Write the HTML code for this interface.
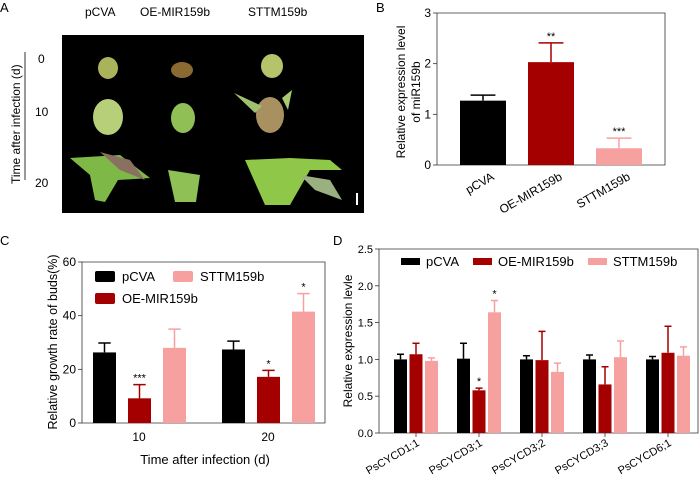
<!DOCTYPE html>
<html><head><meta charset="utf-8">
<style>
body{margin:0;background:#fff;}
svg{display:block;font-family:"Liberation Sans",Arial,sans-serif;}
</style></head>
<body>
<svg id="fig" width="700" height="486" viewBox="0 0 700 486" xmlns="http://www.w3.org/2000/svg">
<g>
<text x="0" y="12" font-size="13">A</text>
<text x="85" y="16" font-size="12">pCVA</text>
<text x="140" y="16" font-size="12">OE-MIR159b</text>
<text x="248" y="16" font-size="12">STTM159b</text>
<text transform="translate(20,184) rotate(-90)" font-size="12">Time after infection (d)</text>
<line x1="25" y1="52" x2="25" y2="180" stroke="#000" stroke-width="0.8"/>
<text x="38" y="63" font-size="12">0</text>
<text x="35" y="116" font-size="12">10</text>
<text x="35" y="187" font-size="12">20</text>
<rect x="62" y="35" width="302" height="178" fill="#000"/>
<g>
<ellipse cx="108" cy="68" rx="10" ry="11" fill="#a9b45a"/>
<ellipse cx="182" cy="70" rx="11" ry="8" fill="#8a6a30"/>
<ellipse cx="272" cy="66" rx="11" ry="12" fill="#b5c46a"/>
<ellipse cx="108" cy="117" rx="15" ry="18" fill="#b8cf7a"/>
<ellipse cx="183" cy="118" rx="12" ry="15" fill="#8fbf55"/>
<ellipse cx="270" cy="115" rx="14" ry="18" fill="#a89060"/>
<path d="M234 93 L262 106 L255 113 Z" fill="#9fc070"/>
<path d="M282 98 L292 90 L288 110 Z" fill="#a9c870"/>
<path d="M70 158 L120 155 L150 178 L118 180 L105 202 L95 200 L90 175 Z" fill="#7eb948"/>
<path d="M100 152 L130 160 L145 180 L120 170 Z" fill="#8a7060"/>
<path d="M168 170 L200 175 L196 202 L175 202 Z" fill="#8fc055"/>
<path d="M245 160 L290 158 L330 160 L342 170 L310 170 L290 205 L265 205 Z" fill="#8fc848"/>
<path d="M300 175 L330 180 L342 200 L315 190 Z" fill="#9ab080"/>
</g>
<rect x="356" y="193" width="2" height="12" fill="#fff"/>
</g>
<text x="376" y="12" font-size="13">B</text>
<text x="0" y="245" font-size="13">C</text>
<text x="333" y="245" font-size="13">D</text>
<g id="pb"></g>
<g id="pc"></g>
<g id="pd"></g>
</svg>
<script>
const NS="http://www.w3.org/2000/svg";
const colors=["#000000","#a50000","#f7a0a0"];
// Panel B data
const bCategories=["pCVA","OE-MIR159b","STTM159b"];
const bValues=[1.27,2.03,0.33];
const bErrors=[1.38,2.41,0.53];
const bStars=["","**","***"];
const bTicks=[0,1,2,3];
// Panel C data
const cGroups=["10","20"];
const cSeries=["pCVA","OE-MIR159b","STTM159b"];
const cValues=[[26.3,9.2,28],[27.4,17.2,41.5]];
const cErrors=[[29.8,14.3,35],[30.5,19.6,48.2]];
const cStars=[["","***",""],["","*","*"]];
const cTicks=[0,20,40,60];
// Panel D data
const dGenes=["PsCYCD1;1","PsCYCD3;1","PsCYCD3;2","PsCYCD3;3","PsCYCD6;1"];
const dValues=[[1.0,1.07,0.98],[1.01,0.58,1.64],[1.0,0.99,0.83],[1.0,0.66,1.03],[1.0,1.09,1.05]];
const dErrors=[[1.07,1.22,1.02],[1.22,0.61,1.8],[1.05,1.38,0.95],[1.06,0.9,1.25],[1.04,1.45,1.17]];
const dStars=[["","",""],["","*","*"],["","",""],["","",""],["","",""]];
const dTicks=["0.0","0.5","1.0","1.5","2.0","2.5"];

function el(parent,tag,attrs,text){const e=document.createElementNS(NS,tag);for(const k in attrs)e.setAttribute(k,attrs[k]);if(text!==undefined)e.textContent=text;parent.appendChild(e);return e;}

function axes(g,x0,x1,y0,y1,ticks,yscale,fs){
  const ax=el(g,"path",{d:`M${x0} ${y1} L${x0} ${y0} L${x1} ${y0} L${x1} ${y1} Z`,fill:"none",stroke:"#333","stroke-width":0.8});
  
  
  ticks.forEach(t=>{const y=yscale(parseFloat(t));
    const l=el(g,"line",{x1:x0-4,x2:x0,y1:y,y2:y,stroke:"#333","stroke-width":0.8});
    
    
    const tx=el(g,"text",{x:x0-6,y:y+4,"font-size":fs,"text-anchor":"end"},String(t));
    
    
  });
}
function bar(g,x,w,v,e,yscale,color,star,y0){
  const r=el(g,"rect",{x:x,y:yscale(v),width:w,height:y0-yscale(v),fill:color});
  
  
  const cx=x+w/2, ye=yscale(e), cw=w*0.27;
  const eb=el(g,"path",{d:`M${cx} ${yscale(v)} L${cx} ${ye} M${cx-cw} ${ye} L${cx+cw} ${ye}`,stroke:color,"stroke-width":1.5,fill:"none"});
  
  
  if(star){const s=el(g,"text",{x:cx,y:ye-3,"font-size":11,"text-anchor":"middle"},star);
    
    }
}
// B
(function(){
  const g=document.getElementById("pb");
  const x0=437,x1=665,y0=165,yTop=13;
  const ys=v=>y0-(v/3)*(y0-yTop);
  axes(g,x0,x1,y0,yTop,bTicks,ys,12);
  const bw=46, step=68, start=460;
  bCategories.forEach((c,i)=>{
    const x=start+i*step;
    bar(g,x,bw,bValues[i],bErrors[i],ys,colors[i],bStars[i],y0);
    const t=el(g,"text",{transform:`translate(${x+bw/2+12},${y0+14}) rotate(-30)`,"font-size":12,"text-anchor":"end"},c);
    
    
  });
  const yt=el(g,"text",{transform:"translate(405,92) rotate(-90)","font-size":12,"text-anchor":"middle"},"Relative expression level");
  
  
  const yt2=el(g,"text",{transform:"translate(420,92) rotate(-90)","font-size":12,"text-anchor":"middle"},"of miR159b");
  
  
})();
// C
(function(){
  const g=document.getElementById("pc");
  const x0=82,x1=325,y0=423,yTop=262;
  const ys=v=>y0-(v/60)*(y0-yTop);
  axes(g,x0,x1,y0,yTop,cTicks,ys,12);
  const bw=23, gs=[93,222], off=[0,35,70];
  cGroups.forEach((grp,gi)=>{
    cSeries.forEach((s,si)=>bar(g,gs[gi]+off[si],bw,cValues[gi][si],cErrors[gi][si],ys,colors[si],cStars[gi][si],y0));
    const t=el(g,"text",{x:gs[gi]+46,y:441,"font-size":12,"text-anchor":"middle"},grp);
    
    
  });
  const xt=el(g,"text",{x:205,y:464,"font-size":13,"text-anchor":"middle"},"Time after infection (d)");
  
  
  const yt=el(g,"text",{transform:"translate(57,342) rotate(-90)","font-size":12.5,"text-anchor":"middle"},"Relative growth rate of buds(%)");
  
  
  const leg=[[95,271,cSeries[0]],[95,293,cSeries[1]],[173,271,cSeries[2]]];
  leg.forEach((l,i)=>{
    const r=el(g,"rect",{x:l[0],y:l[1],width:20,height:11,fill:colors[i],rx:2});
    
    
    const t=el(g,"text",{x:l[0]+27,y:l[1]+10,"font-size":13},l[2]);
    
    
  });
})();
// D
(function(){
  const g=document.getElementById("pd");
  const x0=379,x1=698,y0=433,yTop=249;
  const ys=v=>y0-(v/2.5)*(y0-yTop);
  axes(g,x0,x1,y0,yTop,dTicks,ys,11);
  const bw=13, step=63, start=394, off=[0,15.5,31];
  dGenes.forEach((gn,gi)=>{
    for(let si=0;si<3;si++) bar(g,start+gi*step+off[si],bw,dValues[gi][si],dErrors[gi][si],ys,colors[si],dStars[gi][si],y0);
    const cx=start+gi*step+22;
    const tk=el(g,"line",{x1:cx,x2:cx,y1:y0,y2:y0+4,stroke:"#333","stroke-width":0.8});
    
    
    const t=el(g,"text",{transform:`translate(${cx+4},${y0+12}) rotate(-30)`,"font-size":11,"text-anchor":"end"},gn);
    
    
  });
  const yt=el(g,"text",{transform:"translate(352,341) rotate(-90)","font-size":12,"text-anchor":"middle"},"Relative expression levle");
  
  
  const leg=[[401,"pCVA"],[473,"OE-MIR159b"],[588,"STTM159b"]];
  leg.forEach((l,i)=>{
    const r=el(g,"rect",{x:l[0],y:258,width:19,height:7,fill:colors[i]});
    
    
    const t=el(g,"text",{x:l[0]+25,y:266,"font-size":13},l[1]);
    
    
  });
})();
</script>
</body></html>
